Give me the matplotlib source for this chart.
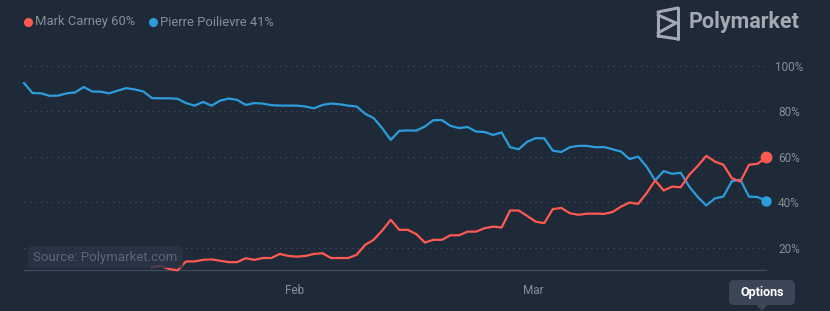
import numpy as np
import pandas as pd
import matplotlib
matplotlib.use("Agg")
import matplotlib.pyplot as plt
from matplotlib.patches import FancyBboxPatch, Polygon
from matplotlib.lines import Line2D
from matplotlib.transforms import IdentityTransform

plt.rcParams['font.family'] = ['Roboto', 'DejaVu Sans']

# daily readings, first point Dec 31
dates = pd.date_range("2024-12-31 08:00", periods=88, freq="D")

poilievre = [92.3, 87.9, 87.8, 86.7, 86.8, 87.8, 88.2, 90.6, 88.6, 88.5,
             87.8, 89.0, 90.1, 89.5, 88.6, 85.7, 85.6, 85.6, 85.4, 83.5,
             82.4, 84.0, 82.4, 84.6, 85.5, 84.9, 82.7, 83.5, 83.3, 82.6,
             82.4, 82.4, 82.4, 82.0, 81.2, 82.7, 83.3, 83.0, 82.4, 82.0,
             78.8, 76.9, 72.5, 67.3, 71.3, 71.5, 71.4, 73.2, 76.0, 76.0,
             73.5, 72.5, 73.0, 71.0, 70.8, 69.5, 70.6, 64.1, 63.2, 66.5,
             68.1, 68.0, 62.6, 62.0, 64.1, 64.7, 64.7, 64.1, 64.2, 63.2,
             62.2, 58.9, 60.0, 55.6, 49.5, 53.6, 52.4, 52.9, 46.8, 42.2,
             38.5, 41.6, 42.4, 49.2, 49.8, 42.4, 42.2, 40.6]

carney = [np.nan] * 15 + [
             11.4, 12.0, 10.6, 10.0, 13.9,
             13.9, 14.6, 14.8, 14.2, 13.6, 13.6, 15.3, 14.6, 15.4, 15.4,
             17.2, 16.3, 16.0, 16.3, 17.2, 17.5, 15.4, 15.4, 15.4, 16.8,
             21.2, 23.4, 27.5, 32.2, 27.8, 27.8, 25.9, 22.2, 23.4, 23.4,
             25.4, 25.4, 27.0, 27.0, 28.5, 29.2, 28.8, 36.3, 36.3, 33.9,
             31.4, 30.7, 36.9, 37.4, 35.1, 34.4, 34.9, 34.9, 34.8, 35.6,
             38.0, 39.8, 39.2, 43.9, 49.5, 45.1, 46.8, 46.5, 52.0, 55.9,
             60.3, 57.8, 56.4, 50.5, 49.0, 56.4, 56.8, 59.6]

names = ["Mark Carney", "Pierre Poilievre"]
latest = [60, 41]
month_ticks = [pd.Timestamp("2025-02-01"), pd.Timestamp("2025-03-01")]
month_labels = ["Feb", "Mar"]
y_ticks = [20, 40, 60, 80, 100]

BG = "#1e2a38"
RED = "#ff5a52"
BLUE = "#2d9cdb"
GREY = "#858e99"
H = 311

fig = plt.figure(figsize=(8.3, 3.11), dpi=100, facecolor=BG)
ax = fig.add_axes([24 / 830, (H - 270.3) / H, 742 / 830, 216.1 / H])
ax.set_facecolor(BG)

ax.plot(dates, poilievre, color=BLUE, lw=1.6, clip_on=False, zorder=3)
ax.plot(dates, carney, color=RED, lw=1.6, clip_on=False, zorder=3)
ax.plot(dates[-1], carney[-1], "o", color=RED, ms=7.5, clip_on=False, zorder=4)
ax.plot(dates[-1], poilievre[-1], "o", color=BLUE, ms=6.5, clip_on=False, zorder=4)

ax.set_xlim(dates[0], dates[-1])
ax.set_ylim(10, 105)
ax.set_yticks(y_ticks)
ax.set_yticklabels([f"{v}%" for v in y_ticks])
ax.set_xticks(month_ticks)
ax.set_xticklabels(month_labels)
ax.yaxis.tick_right()
ax.tick_params(axis="y", length=0, pad=16.5, labelsize=8.5, labelcolor=GREY)
ax.tick_params(axis="x", length=0, pad=10, labelsize=8.5, labelcolor=GREY)
for lab in ax.get_yticklabels():
    lab.set_horizontalalignment("center")
ax.yaxis.grid(True, linestyle=(0, (1, 4)), color="#475466", lw=0.8)
for s in ["top", "left", "right"]:
    ax.spines[s].set_visible(False)
ax.spines["bottom"].set_color("#3d4959")
ax.spines["bottom"].set_linewidth(1)

px = IdentityTransform()

# legend
for (x, c, name, v) in [(28, RED, names[0], latest[0]), (153, BLUE, names[1], latest[1])]:
    fig.add_artist(Line2D([x], [H - 22], marker="o", ms=5.5, color=c, lw=0, transform=px))
    fig.text(x + 7, H - 22, f"{name} {v}%", transform=px, ha="left", va="center",
             fontsize=9.4, color=GREY)

# logo
logo = "#a3a8b2"
for seg in [[(658, 12), (678, 8)], [(658, 36), (678, 39)], [(678, 8), (678, 39)],
            [(658, 12), (658, 36)], [(658, 15), (676, 23)], [(676, 23), (658, 33)]]:
    xs, ys = zip(*seg)
    fig.add_artist(Line2D(xs, [H - y for y in ys], color=logo, lw=2.2, transform=px,
                          solid_capstyle="round"))
fig.text(689, H - 22, "Polymarket", transform=px, ha="left", va="center",
         fontsize=15.5, fontweight="semibold", color=logo)

# source box
fig.add_artist(FancyBboxPatch((28, H - 268), 155, 22, boxstyle="round,pad=0,rounding_size=4",
                              transform=px, fc="#2a3646", ec="none", alpha=0.8, zorder=5))
fig.text(105.5, H - 257, "Source: Polymarket.com", transform=px, ha="center", va="center",
         fontsize=9.5, color="#5c6776", zorder=6)

# options button
fig.add_artist(FancyBboxPatch((729, 6), 66, 25, boxstyle="round,pad=0,rounding_size=5",
                              transform=px, fc="#3a4556", ec="none", zorder=5))
fig.add_artist(Polygon([(756, 6.5), (768, 6.5), (762, 0)], closed=True, transform=px,
                       fc="#3a4556", ec="none", zorder=5))
fig.text(762, 18.5, "Options", transform=px, ha="center", va="center",
         fontsize=9, fontweight="bold", color="white", zorder=6)

fig.savefig("out.png", dpi=100, facecolor=BG)
